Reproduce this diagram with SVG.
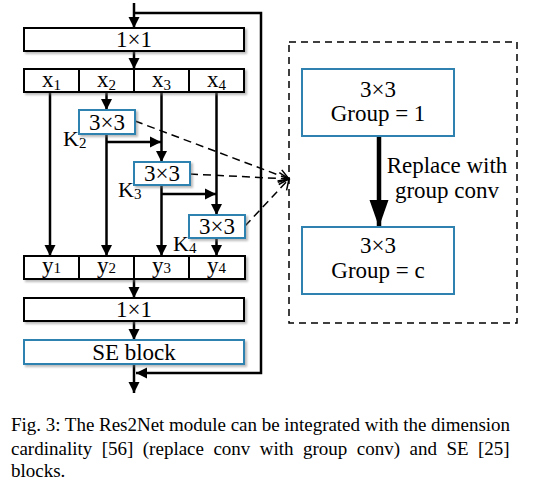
<svg xmlns="http://www.w3.org/2000/svg" width="543" height="484" viewBox="0 0 543 484">
<defs>
<style>
.t{font-family:"Liberation Serif","Times New Roman",serif;fill:#000}
.lbl{font-size:23px;text-anchor:middle}
.sub{font-size:15px}
.box{fill:#fff;stroke:#000;stroke-width:2}
.blue{fill:#fff;stroke:#2f82b0;stroke-width:2}
.ln{fill:none;stroke:#000;stroke-width:2.5}
.dash{fill:none;stroke:#000;stroke-width:1.5;stroke-dasharray:8 5}
.cap{font-size:19px}
</style>
<filter id="sh" x="-10%" y="-10%" width="130%" height="150%">
<feDropShadow dx="2" dy="2" stdDeviation="1.2" flood-color="#777" flood-opacity="0.5"/>
</filter>
<marker id="ah" markerUnits="userSpaceOnUse" markerWidth="12" markerHeight="12" refX="11" refY="6" orient="auto">
<path d="M0,0.5 L11,6 L0,11.5 z" fill="#000"/>
</marker>
<marker id="big" markerUnits="userSpaceOnUse" markerWidth="28" markerHeight="20" refX="27" refY="10" orient="auto">
<path d="M0,0.5 L27,10 L0,19.5 z" fill="#000"/>
</marker>
<marker id="open" markerUnits="userSpaceOnUse" markerWidth="14" markerHeight="14" refX="12" refY="7" orient="auto">
<path d="M2,1 L12,7 L2,13" fill="none" stroke="#000" stroke-width="1.5"/>
</marker>
</defs>
<rect width="543" height="484" fill="#fff"/>

<g id="connectors">
<line class="ln" x1="134" y1="3" x2="134" y2="28" marker-end="url(#ah)"/>
<path class="ln" d="M134,13 H261 V373 H136" marker-end="url(#ah)"/>
<line class="ln" x1="134" y1="51" x2="134" y2="69" marker-end="url(#ah)"/>
<line class="ln" x1="50" y1="92" x2="50" y2="256" marker-end="url(#ah)"/>
<line class="ln" x1="106.5" y1="92" x2="106.5" y2="110" marker-end="url(#ah)"/>
<line class="ln" x1="106.5" y1="134" x2="106.5" y2="256" marker-end="url(#ah)"/>
<line class="ln" x1="106.5" y1="142" x2="161" y2="142" marker-end="url(#ah)"/>
<line class="ln" x1="161.5" y1="92" x2="161.5" y2="162" marker-end="url(#ah)"/>
<line class="ln" x1="161.5" y1="185" x2="161.5" y2="256" marker-end="url(#ah)"/>
<line class="ln" x1="161.5" y1="194" x2="216" y2="194" marker-end="url(#ah)"/>
<line class="ln" x1="216.5" y1="92" x2="216.5" y2="215" marker-end="url(#ah)"/>
<line class="ln" x1="216.5" y1="238" x2="216.5" y2="256" marker-end="url(#ah)"/>
<line class="ln" x1="134" y1="279" x2="134" y2="298" marker-end="url(#ah)"/>
<line class="ln" x1="134" y1="321" x2="134" y2="340" marker-end="url(#ah)"/>
<line class="ln" x1="134" y1="364" x2="134" y2="393" marker-end="url(#ah)"/>
<line class="dash" x1="135" y1="121" x2="289" y2="179" marker-end="url(#open)"/>
<line class="dash" x1="190" y1="174" x2="289" y2="179" marker-end="url(#open)"/>
<line class="dash" x1="245" y1="226" x2="289" y2="179" marker-end="url(#open)"/>
<line x1="379" y1="136" x2="379" y2="227" stroke="#000" stroke-width="4.5" marker-end="url(#big)"/>
</g>

<g id="conv1x1_top">
<rect class="box" x="24" y="28" width="220" height="23" filter="url(#sh)"/>
<text class="t lbl" x="134" y="47">1×1</text>
</g>

<g id="x_split">
<rect class="box" x="24" y="69" width="220" height="23" filter="url(#sh)"/>
<line stroke="#000" stroke-width="2" x1="79" y1="69" x2="79" y2="92"/>
<line stroke="#000" stroke-width="2" x1="134" y1="69" x2="134" y2="92"/>
<line stroke="#000" stroke-width="2" x1="189" y1="69" x2="189" y2="92"/>
<text class="t lbl" x="51.5" y="87">x<tspan class="sub" dy="3">1</tspan></text>
<text class="t lbl" x="106.5" y="87">x<tspan class="sub" dy="3">2</tspan></text>
<text class="t lbl" x="161.5" y="87">x<tspan class="sub" dy="3">3</tspan></text>
<text class="t lbl" x="216.5" y="87">x<tspan class="sub" dy="3">4</tspan></text>
</g>

<g id="k2">
<rect class="blue" x="79" y="110" width="56" height="24" filter="url(#sh)"/>
<text class="t lbl" x="107" y="130">3×3</text>
<text class="t" font-size="22" x="63" y="146">K<tspan class="sub" dy="2">2</tspan></text>
</g>

<g id="k3">
<rect class="blue" x="134" y="162" width="56" height="23" filter="url(#sh)"/>
<text class="t lbl" x="162" y="181">3×3</text>
<text class="t" font-size="22" x="118" y="197">K<tspan class="sub" dy="2">3</tspan></text>
</g>

<g id="k4">
<rect class="blue" x="189" y="215" width="56" height="23" filter="url(#sh)"/>
<text class="t lbl" x="217" y="234">3×3</text>
<text class="t" font-size="22" x="173" y="251">K<tspan class="sub" dy="2">4</tspan></text>
</g>

<g id="y_concat">
<rect class="box" x="24" y="256" width="221" height="23" filter="url(#sh)"/>
<line stroke="#000" stroke-width="2" x1="79" y1="256" x2="79" y2="279"/>
<line stroke="#000" stroke-width="2" x1="134" y1="256" x2="134" y2="279"/>
<line stroke="#000" stroke-width="2" x1="189" y1="256" x2="189" y2="279"/>
<text class="t lbl" x="51.5" y="273">y<tspan class="sub">1</tspan></text>
<text class="t lbl" x="106.5" y="273">y<tspan class="sub">2</tspan></text>
<text class="t lbl" x="161.5" y="273">y<tspan class="sub">3</tspan></text>
<text class="t lbl" x="216.5" y="273">y<tspan class="sub">4</tspan></text>
</g>

<g id="conv1x1_bottom">
<rect class="box" x="24" y="298" width="220" height="23" filter="url(#sh)"/>
<text class="t lbl" x="134" y="317">1×1</text>
</g>

<g id="se_block">
<rect class="blue" x="24" y="340" width="220" height="24" filter="url(#sh)"/>
<text class="t lbl" x="134" y="360">SE block</text>
</g>

<g id="group_panel">
<rect x="289" y="42" width="228" height="281" fill="none" stroke="#000" stroke-width="1.5" stroke-dasharray="7 5"/>
</g>

<g id="group1">
<rect class="blue" x="302" y="69" width="152" height="67"/>
<text class="t lbl" x="378" y="97">3×3</text>
<text class="t lbl" x="378" y="121">Group = 1</text>
</g>

<g id="replace_label">
<text class="t lbl" x="447" y="173">Replace with</text>
<text class="t lbl" x="447" y="198">group conv</text>
</g>

<g id="groupc">
<rect class="blue" x="302" y="227" width="152" height="67"/>
<text class="t lbl" x="378" y="253">3×3</text>
<text class="t lbl" x="378" y="278">Group = c</text>
</g>

<g id="caption">
<text class="t cap" x="11" y="431" textLength="499" lengthAdjust="spacing">Fig. 3: The Res2Net module can be integrated with the dimension</text>
<text class="t cap" x="11" y="455" word-spacing="4.7">cardinality [56] (replace conv with group conv) and SE [25]</text>
<text class="t cap" x="11" y="477">blocks.</text>
</g>
</svg>
